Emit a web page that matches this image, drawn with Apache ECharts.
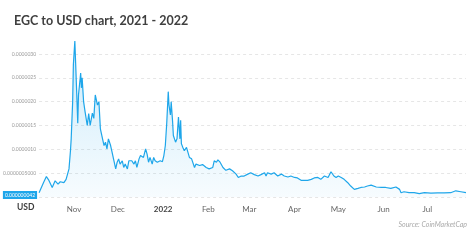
<!DOCTYPE html>
<html><head><meta charset="utf-8">
<script src="https://cdn.jsdelivr.net/npm/echarts@6/dist/echarts.min.js"></script>
<style>html,body{margin:0;padding:0;background:#fff}#c{width:474px;height:241px}</style>
</head><body><div id="c"></div>
<script>
const dates = [
'2021-10-08','2021-10-11','2021-10-13','2021-10-14 12:00','2021-10-17','2021-10-19','2021-10-21','2021-10-22 12:00','2021-10-25','2021-10-26 12:00',
'2021-10-28 12:00','2021-10-29 12:00','2021-10-30','2021-10-31','2021-10-31 12:00','2021-11-01 12:00','2021-11-02','2021-11-03','2021-11-03 12:00','2021-11-04',
'2021-11-05 12:00','2021-11-06','2021-11-06 12:00','2021-11-07 12:00','2021-11-08 12:00','2021-11-10','2021-11-11','2021-11-12','2021-11-13 12:00','2021-11-14 12:00',
'2021-11-15 12:00','2021-11-17','2021-11-18','2021-11-19','2021-11-20','2021-11-21 12:00','2021-11-22 12:00','2021-11-23 12:00','2021-11-24 12:00','2021-11-26',
'2021-11-27','2021-11-28','2021-11-29 12:00','2021-11-30 12:00','2021-12-01 12:00','2021-12-02 12:00','2021-12-04','2021-12-05','2021-12-06','2021-12-07 12:00',
'2021-12-08 12:00','2021-12-09 12:00','2021-12-10 12:00','2021-12-12','2021-12-13','2021-12-14','2021-12-15 12:00','2021-12-16 12:00','2021-12-17 12:00','2021-12-18 12:00',
'2021-12-20','2021-12-21','2021-12-22','2021-12-23','2021-12-24 12:00','2021-12-25 12:00','2021-12-26 12:00','2021-12-28','2021-12-29','2021-12-30',
'2021-12-31 12:00','2022-01-01 12:00','2022-01-02 12:00','2022-01-03 12:00','2022-01-04 12:00','2022-01-05','2022-01-06','2022-01-06 12:00','2022-01-07 12:00','2022-01-08',
'2022-01-09 12:00','2022-01-10 12:00','2022-01-11 12:00','2022-01-12 12:00','2022-01-13','2022-01-13 12:00','2022-01-14 12:00','2022-01-15 12:00','2022-01-17','2022-01-19',
'2022-01-20 12:00','2022-01-22 12:00','2022-01-23 12:00','2022-01-26','2022-01-28','2022-01-30 12:00','2022-02-01 12:00','2022-02-04','2022-02-05','2022-02-06 12:00',
'2022-02-07 12:00','2022-02-09','2022-02-11','2022-02-13','2022-02-15 12:00','2022-02-17 12:00','2022-02-20','2022-02-21 12:00','2022-02-23 12:00','2022-02-25 12:00',
'2022-02-28','2022-03-02','2022-03-04 12:00','2022-03-07','2022-03-09','2022-03-11 12:00','2022-03-12 12:00','2022-03-13 12:00','2022-03-16','2022-03-18',
'2022-03-20 12:00','2022-03-23','2022-03-25','2022-03-27 12:00','2022-03-29 12:00','2022-04-01','2022-04-03','2022-04-05 12:00','2022-04-07 12:00','2022-04-10',
'2022-04-12 12:00','2022-04-14 12:00','2022-04-17','2022-04-19','2022-04-21 12:00','2022-04-24','2022-04-26','2022-04-28','2022-04-29 12:00','2022-05-01',
'2022-05-03','2022-05-05','2022-05-07 12:00','2022-05-09 12:00','2022-05-12','2022-05-14 12:00','2022-05-16 12:00','2022-05-19','2022-05-21','2022-05-23 12:00',
'2022-05-24 12:00','2022-05-27','2022-05-30 12:00','2022-06-02 12:00','2022-06-06','2022-06-09 12:00','2022-06-12','2022-06-13','2022-06-15','2022-06-18 12:00',
'2022-06-22','2022-06-25 12:00','2022-06-29','2022-07-03 12:00','2022-07-08','2022-07-12 12:00','2022-07-17','2022-07-20 12:00','2022-07-24','2022-07-27 12:00'
];
// price in millionths of a US dollar (1 = 0.000001 USD)
const pricesMicroUSD = [
0.09,0.30,0.43,0.36,0.20,0.34,0.27,0.32,0.30,0.37,
0.59,0.97,1.22,2.00,2.78,3.27,2.85,2.00,1.55,2.14,
2.60,2.29,2.50,2.00,1.79,1.50,1.75,1.50,1.76,1.65,
2.14,1.93,2.00,1.43,1.29,1.08,1.15,1.01,1.22,1.08,
0.94,0.80,0.59,0.73,0.80,0.69,0.76,0.62,0.69,0.59,
0.76,0.73,0.76,0.69,0.76,0.62,0.80,0.87,0.90,0.83,
1.01,0.90,0.73,0.83,0.69,0.83,0.76,0.73,0.76,0.76,
0.74,0.87,1.08,1.57,2.21,1.93,1.72,2.00,1.57,1.29,
1.15,1.22,1.68,1.22,1.61,1.12,1.04,0.97,1.04,0.83,
0.80,0.62,0.69,0.66,0.68,0.62,0.59,0.62,0.76,0.73,
0.78,0.73,0.62,0.56,0.59,0.55,0.48,0.41,0.44,0.44,
0.48,0.51,0.47,0.44,0.47,0.51,0.44,0.51,0.48,0.51,
0.44,0.48,0.44,0.42,0.44,0.41,0.40,0.35,0.35,0.35,
0.37,0.40,0.41,0.37,0.44,0.41,0.53,0.44,0.41,0.44,
0.41,0.37,0.30,0.23,0.16,0.18,0.20,0.21,0.23,0.25,
0.23,0.21,0.20,0.20,0.18,0.21,0.16,0.09,0.11,0.09,
0.09,0.07,0.09,0.08,0.085,0.085,0.09,0.13,0.11,0.09
];
const yTickLabels = ['', '0.0000005000', '0.0000010', '0.0000015', '0.0000020', '0.0000025', '0.0000030'];
const monthNames = ['Jan','Feb','Mar','Apr','May','Jun','Jul','Aug','Sep','Oct','Nov','Dec'];
const currentPriceText = '0.000000042';
const currentPriceMicro = 0.042;

const seriesData = dates.map((d, i) => [d, pricesMicroUSD[i]]);
const chart = echarts.init(document.getElementById('c'), null, {renderer: 'canvas'});
const FONT = 'Lato';
chart.setOption({
  animation: false,
  backgroundColor: '#fff',
  title: {
    text: 'EGC to USD chart, 2021 - 2022',
    left: 9, top: 9,
    textStyle: {fontFamily: FONT, fontSize: 12.5, fontWeight: 'bold', color: '#3f3f3f'}
  },
  grid: {left: 38, right: 8, top: 54, bottom: 44},
  xAxis: {
    type: 'time',
    min: 'dataMin', max: 'dataMax',
    minInterval: 28 * 86400000,
    maxInterval: 31 * 86400000,
    axisLine: {show: false},
    axisTick: {show: false},
    splitLine: {show: false},
    axisLabel: {
      margin: 8,
      fontFamily: FONT, fontSize: 8, color: '#666',
      formatter: function (v) {
        const d = new Date(v);
        if (d.getDate() !== 1) return '';
        if (d.getMonth() === 0) return '{y|' + d.getFullYear() + '}';
        return monthNames[d.getMonth()];
      },
      rich: {y: {fontFamily: FONT, fontSize: 8, fontWeight: 'bold', color: '#444'}}
    }
  },
  yAxis: {
    type: 'value', min: 0, max: 3, interval: 0.5,
    axisLine: {show: false}, axisTick: {show: false},
    axisLabel: {
      margin: 3, fontFamily: FONT, fontSize: 5, color: '#9a9a9a',
      formatter: function (v) { return yTickLabels[Math.round(v / 0.5)] || ''; }
    },
    splitLine: {lineStyle: {color: '#e6e6e6', type: [3, 3], width: 1}}
  },
  series: [{
    type: 'line',
    data: seriesData,
    showSymbol: false,
    clip: false,
    lineStyle: {color: '#1ea6ea', width: 1.2},
    itemStyle: {color: '#1ea6ea'},
    areaStyle: {
      color: new echarts.graphic.LinearGradient(0, 0, 0, 1, [
        {offset: 0, color: 'rgba(30,166,234,0.32)'},
        {offset: 1, color: 'rgba(30,166,234,0.05)'}
      ])
    },
    markLine: {
      silent: true, symbol: 'none',
      lineStyle: {color: 'rgba(0,0,0,0)', width: 0},
      label: {
        position: 'start', distance: 2,
        formatter: currentPriceText,
        backgroundColor: '#1ea6ea', color: '#fff',
        fontFamily: FONT, fontSize: 5, padding: [2, 2, 1, 2]
      },
      data: [{yAxis: currentPriceMicro}]
    }
  }],
  graphic: [
    {type: 'text', left: 17, top: 203,
     style: {text: 'USD', fontFamily: FONT, fontSize: 8.5, fontWeight: 'bold', fill: '#3d3d3d'}},
    {type: 'text', right: 7, top: 221,
     style: {text: 'Source: CoinMarketCap', fontFamily: FONT, fontSize: 7, fontStyle: 'italic', fill: '#aaa'}}
  ]
});
</script></body></html>
